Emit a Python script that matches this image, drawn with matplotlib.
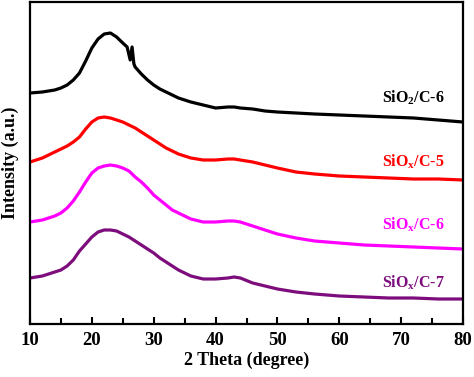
import matplotlib
matplotlib.use('Agg')
import matplotlib.pyplot as plt
from matplotlib.ticker import MultipleLocator

plt.rcParams['font.family'] = 'Liberation Serif'
plt.rcParams['font.weight'] = 'bold'
plt.rcParams['mathtext.fontset'] = 'custom'
plt.rcParams['mathtext.rm'] = 'Liberation Serif:bold'
plt.rcParams['mathtext.bf'] = 'Liberation Serif:bold'

# 2 theta grid (degree) shared by the SiOx curves
two_theta = [10, 12, 14, 15, 16, 17, 18, 19, 20, 21,
             22, 23, 24, 25, 26, 27, 28, 29, 30, 31,
             32, 33, 34, 35, 36, 38, 40,
             42, 43, 44, 46, 48, 50, 53, 56, 60, 64,
             68, 72, 76, 80]

# SiO2/C-6 has a small sharp peak near 26.6, so it gets its own grid
two_theta_sio2 = [10, 12, 14, 15, 16, 17, 18, 19, 20, 21,
                  22, 23, 24, 25, 25.7, 26.2, 26.5, 26.8, 27, 28,
                  29, 30, 31, 32, 33, 34, 35, 36, 38, 40,
                  42, 43, 44, 46, 48, 50, 53, 56, 60, 64,
                  68, 72, 76, 80]

sio2_c6 = [231, 232, 234, 236, 239, 244, 251, 263, 276, 285,
           290, 291, 287, 281, 277, 264, 277, 260, 257, 250,
           244, 239, 235, 232, 229, 226, 224, 222, 219, 216,
           217, 217, 216, 215, 213, 212, 211, 210, 209, 208,
           207, 206, 204, 202]

siox_c5 = [162, 166, 172, 175, 178, 182, 187, 195, 202, 206,
           207, 206, 204, 202, 199, 196, 192, 188, 184, 180,
           176, 173, 170, 168, 166, 164, 164,
           165, 165, 164, 162, 159, 156, 152, 150, 148, 147,
           146, 145, 145, 144]

siox_c6 = [102, 104, 108, 111, 116, 123, 132, 142, 151, 156,
           158, 159, 158, 156, 153, 147, 142, 136, 129, 124,
           119, 114, 111, 108, 105, 102, 102,
           103, 103, 102, 98, 94, 90, 86, 83, 81, 79,
           78, 77, 76, 75]

siox_c7 = [46, 48, 52, 54, 58, 64, 73, 80, 87, 92,
           94, 94, 93, 90, 87, 83, 79, 75, 71, 66,
           62, 58, 54, 51, 48, 45, 45,
           46, 47, 46, 41, 38, 35, 32, 30, 28, 27,
           26, 26, 25, 25]

labels = [r'SiO$_{\mathrm{2}}$/C-6', r'SiO$_{\mathrm{x}}$/C-5',
          r'SiO$_{\mathrm{x}}$/C-6', r'SiO$_{\mathrm{x}}$/C-7']
label_y = [226, 162, 99, 41]
colors = ['black', '#ff0000', '#ff00ff', '#7d0c7d']

fig = plt.figure(figsize=(4.74, 3.77), dpi=100)
ax = fig.add_axes([30 / 474, 53 / 377, 433 / 474, 322 / 377])

ax.plot(two_theta_sio2, sio2_c6, color=colors[0], lw=2.3)
ax.plot(two_theta, siox_c5, color=colors[1], lw=2.3)
ax.plot(two_theta, siox_c6, color=colors[2], lw=2.3)
ax.plot(two_theta, siox_c7, color=colors[3], lw=2.3)

for lab, yy, c in zip(labels, label_y, colors):
    ax.text(77.1, yy, lab, color=c, ha='right', va='center',
            fontsize=11.5, fontweight='bold')

ax.set_xlim(10, 80)
ax.set_ylim(0, 322)
ax.xaxis.set_major_locator(MultipleLocator(10))
ax.xaxis.set_minor_locator(MultipleLocator(5))
ax.tick_params(axis='x', which='both', direction='in', width=1.5, labelsize=13.5, pad=6)
ax.tick_params(axis='x', which='major', length=5)
ax.tick_params(axis='x', which='minor', length=4)
ax.set_yticks([])
for s in ax.spines.values():
    s.set_linewidth(1.6)

ax.set_xlabel('2 Theta (degree)', fontsize=13, fontweight='bold', labelpad=2)
ax.set_ylabel('Intensity (a.u.)', fontsize=13, fontweight='bold', labelpad=8)

fig.savefig('out.png', dpi=100)
